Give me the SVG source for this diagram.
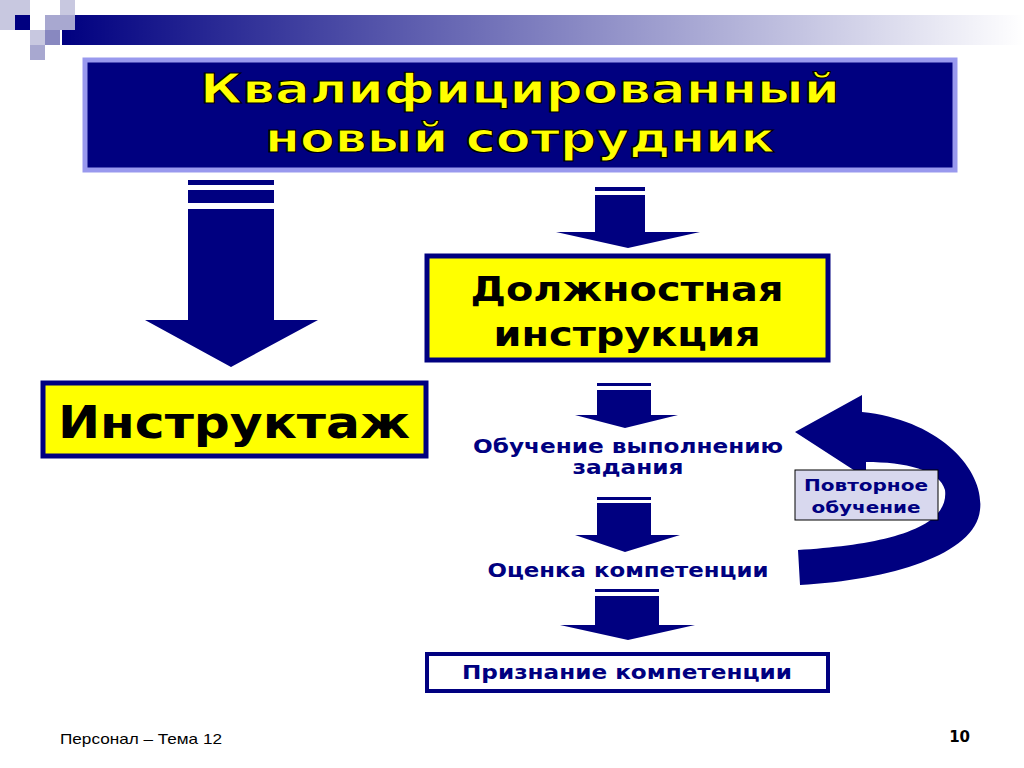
<svg xmlns="http://www.w3.org/2000/svg" width="1024" height="768" viewBox="0 0 1024 768">
<defs>
<linearGradient id="bar" x1="0" x2="1"><stop offset="0" stop-color="#000080"/><stop offset="1" stop-color="#000080" stop-opacity="0"/></linearGradient>
<style>
.n{fill:#000080}
.t{font-family:"DejaVu Sans",Verdana,sans-serif;font-weight:bold;text-anchor:middle}
</style>
</defs>
<rect width="1024" height="768" fill="#fff"/>
<g id="decor">
<rect x="62" y="15" width="962" height="30" fill="url(#bar)"/>
<rect x="0" y="0" width="30" height="30" fill="#c8c8e0"/>
<rect x="15" y="15" width="15" height="15" fill="#000080"/>
<rect x="45" y="15" width="30" height="15" fill="#a8a8d0"/>
<rect x="60" y="0" width="15" height="15" fill="#c8c8e0"/>
<rect x="30" y="30" width="30" height="15" fill="#c8c8e0"/>
<rect x="45" y="30" width="15" height="15" fill="#8888c0"/>
<rect x="30" y="45" width="15" height="15" fill="#a8a8d0"/>
</g>
<g id="title">
<rect x="85" y="60" width="870" height="110" fill="#000080" stroke="#9999ee" stroke-width="5"/>
<text class="t" x="520" y="103" font-size="41" fill="#ffff00" stroke="#000" stroke-width="1.2" textLength="640" lengthAdjust="spacingAndGlyphs">Квалифицированный</text>
<text class="t" x="520" y="152" font-size="41" fill="#ffff00" stroke="#000" stroke-width="1.2" textLength="510" lengthAdjust="spacingAndGlyphs">новый сотрудник</text>
</g>
<g id="connectors">
<g class="n">
<rect x="188" y="180" width="86" height="5"/><rect x="188" y="190" width="86" height="13"/>
<path d="M188,209 H274 V320 H318 L231,367 L145,320 H188 Z"/>
<rect x="595" y="187" width="50" height="4"/><path d="M595,195 H645 V232 H700 L628,248 L556,232 H595 Z"/>
<rect x="597" y="383" width="54" height="3"/><path d="M597,390 H651 V415 H678 L625,428 L575,415 H597 Z"/>
<rect x="597" y="497" width="54" height="3"/><path d="M597,503 H651 V535 H680 L625,552 L575,535 H597 Z"/>
<rect x="595" y="589" width="64" height="3"/><path d="M595,596 H659 V625 H695 L628,640 L560,625 H595 Z"/>
<path d="M795,432 L862,395 L862,412 C940,420 985,470 980,510 C975,555 890,580 800,585 L798,550 C880,545 950,530 945,490 C940,470 905,462 866,462 L866,478 Z"/>
</g>
</g>
<g id="doljn">
<rect x="427" y="256" width="401" height="104" fill="#ffff00" stroke="#000080" stroke-width="5"/>
<text class="t" x="627" y="301" font-size="33" fill="#000" textLength="313" lengthAdjust="spacingAndGlyphs">Должностная</text>
<text class="t" x="627" y="346" font-size="33" fill="#000" textLength="267" lengthAdjust="spacingAndGlyphs">инструкция</text>
</g>
<g id="instr">
<rect x="43" y="383" width="383" height="73" fill="#ffff00" stroke="#000080" stroke-width="5"/>
<text class="t" x="234" y="438" font-size="44" fill="#000" textLength="352" lengthAdjust="spacingAndGlyphs">Инструктаж</text>
</g>
<g id="obuch">
<text class="t" x="628" y="453" font-size="19" fill="#000080" textLength="310" lengthAdjust="spacingAndGlyphs">Обучение выполнению</text>
<text class="t" x="628" y="474" font-size="19" fill="#000080" textLength="111" lengthAdjust="spacingAndGlyphs">задания</text>
</g>
<g id="ocenka"><text class="t" x="628" y="577" font-size="19" fill="#000080" textLength="281" lengthAdjust="spacingAndGlyphs">Оценка компетенции</text></g>
<g id="povt">
<rect x="795" y="470" width="143" height="50" fill="#d8d8ee" stroke="#000" stroke-width="1"/>
<text class="t" x="866" y="491" font-size="16" fill="#000080" textLength="124" lengthAdjust="spacingAndGlyphs">Повторное</text>
<text class="t" x="866" y="513" font-size="16" fill="#000080" textLength="109" lengthAdjust="spacingAndGlyphs">обучение</text>
</g>
<g id="priz">
<rect x="427" y="654" width="401" height="37" fill="#fff" stroke="#000080" stroke-width="4"/>
<text class="t" x="627" y="679" font-size="19" fill="#000080" textLength="330" lengthAdjust="spacingAndGlyphs">Признание компетенции</text>
</g>
<text x="60" y="744" font-family="Liberation Sans,Arial,sans-serif" font-size="15" fill="#000" textLength="162" lengthAdjust="spacingAndGlyphs">Персонал – Тема 12</text>
<text x="970" y="742" font-family="DejaVu Sans,sans-serif" font-weight="bold" font-size="15" fill="#000" text-anchor="end">10</text>
</svg>
